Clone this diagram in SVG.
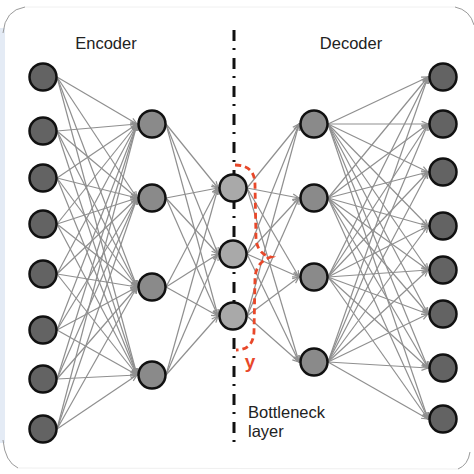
<svg xmlns="http://www.w3.org/2000/svg" width="474" height="474" viewBox="0 0 474 474">
<style>
.c line{stroke:#8f8f8f;stroke-width:1.2;marker-end:url(#a)}
.in{fill:#636363;stroke:#111;stroke-width:2.5}
.hid{fill:#8a8a8a;stroke:#111;stroke-width:2.5}
.bot{fill:#a9a9a9;stroke:#111;stroke-width:2.5}
.lbl{font-family:"Liberation Sans",Arial,sans-serif;font-size:16.5px;fill:#222}
</style>
<defs>
<marker id="a" viewBox="0 0 10 10" refX="9" refY="5" markerWidth="8" markerHeight="8" orient="auto" markerUnits="userSpaceOnUse"><path d="M1,1.5 L9,5 L1,8.5" fill="none" stroke="#8f8f8f" stroke-width="1.5"/></marker>
</defs>
<rect width="474" height="474" fill="#fff"/>
<g id="frame" fill="none">
<rect x="0" y="28" width="5" height="415" fill="#e4ebf5"/>
<path d="M25,7 L455,7 M18,468 L458,469" stroke="#f0f0f0" stroke-width="1"/>
<path d="M3,33 Q5,10 25,7 M455,7 Q470,10 474,25 M3,440 Q5,462 18,468 M470,452 Q468,465 458,469" stroke="#9a9a9a" stroke-width="1"/>
</g>
<line id="divider" x1="234" y1="30" x2="234" y2="442" stroke="#111" stroke-width="3" stroke-dasharray="11 7 2 8"/>
<g id="connectors" class="c">
<line x1="57" y1="77" x2="137" y2="124"/><line x1="57" y1="77" x2="137" y2="198"/><line x1="57" y1="77" x2="137" y2="287"/><line x1="57" y1="77" x2="137" y2="375"/>
<line x1="57" y1="131" x2="137" y2="124"/><line x1="57" y1="131" x2="137" y2="198"/><line x1="57" y1="131" x2="137" y2="287"/><line x1="57" y1="131" x2="137" y2="375"/>
<line x1="57" y1="178" x2="137" y2="124"/><line x1="57" y1="178" x2="137" y2="198"/><line x1="57" y1="178" x2="137" y2="287"/><line x1="57" y1="178" x2="137" y2="375"/>
<line x1="57" y1="224" x2="137" y2="124"/><line x1="57" y1="224" x2="137" y2="198"/><line x1="57" y1="224" x2="137" y2="287"/><line x1="57" y1="224" x2="137" y2="375"/>
<line x1="57" y1="274" x2="137" y2="124"/><line x1="57" y1="274" x2="137" y2="198"/><line x1="57" y1="274" x2="137" y2="287"/><line x1="57" y1="274" x2="137" y2="375"/>
<line x1="57" y1="330" x2="137" y2="124"/><line x1="57" y1="330" x2="137" y2="198"/><line x1="57" y1="330" x2="137" y2="287"/><line x1="57" y1="330" x2="137" y2="375"/>
<line x1="57" y1="379" x2="137" y2="124"/><line x1="57" y1="379" x2="137" y2="198"/><line x1="57" y1="379" x2="137" y2="287"/><line x1="57" y1="379" x2="137" y2="375"/>
<line x1="57" y1="429" x2="137" y2="124"/><line x1="57" y1="429" x2="137" y2="198"/><line x1="57" y1="429" x2="137" y2="287"/><line x1="57" y1="429" x2="137" y2="375"/>
<line x1="166" y1="124" x2="218" y2="188"/><line x1="166" y1="124" x2="218" y2="254"/><line x1="166" y1="124" x2="218" y2="316"/>
<line x1="166" y1="198" x2="218" y2="188"/><line x1="166" y1="198" x2="218" y2="254"/><line x1="166" y1="198" x2="218" y2="316"/>
<line x1="166" y1="287" x2="218" y2="188"/><line x1="166" y1="287" x2="218" y2="254"/><line x1="166" y1="287" x2="218" y2="316"/>
<line x1="166" y1="375" x2="218" y2="188"/><line x1="166" y1="375" x2="218" y2="254"/><line x1="166" y1="375" x2="218" y2="316"/>
<line x1="247" y1="188" x2="299" y2="124"/><line x1="247" y1="188" x2="299" y2="198"/><line x1="247" y1="188" x2="299" y2="277"/><line x1="247" y1="188" x2="299" y2="362"/>
<line x1="247" y1="254" x2="299" y2="124"/><line x1="247" y1="254" x2="299" y2="198"/><line x1="247" y1="254" x2="299" y2="277"/><line x1="247" y1="254" x2="299" y2="362"/>
<line x1="247" y1="316" x2="299" y2="124"/><line x1="247" y1="316" x2="299" y2="198"/><line x1="247" y1="316" x2="299" y2="277"/><line x1="247" y1="316" x2="299" y2="362"/>
<line x1="328" y1="124" x2="428" y2="77"/><line x1="328" y1="124" x2="428" y2="124"/><line x1="328" y1="124" x2="428" y2="172"/><line x1="328" y1="124" x2="428" y2="226"/><line x1="328" y1="124" x2="428" y2="270"/><line x1="328" y1="124" x2="428" y2="314"/><line x1="328" y1="124" x2="428" y2="368"/><line x1="328" y1="124" x2="428" y2="419"/>
<line x1="328" y1="198" x2="428" y2="77"/><line x1="328" y1="198" x2="428" y2="124"/><line x1="328" y1="198" x2="428" y2="172"/><line x1="328" y1="198" x2="428" y2="226"/><line x1="328" y1="198" x2="428" y2="270"/><line x1="328" y1="198" x2="428" y2="314"/><line x1="328" y1="198" x2="428" y2="368"/><line x1="328" y1="198" x2="428" y2="419"/>
<line x1="328" y1="277" x2="428" y2="77"/><line x1="328" y1="277" x2="428" y2="124"/><line x1="328" y1="277" x2="428" y2="172"/><line x1="328" y1="277" x2="428" y2="226"/><line x1="328" y1="277" x2="428" y2="270"/><line x1="328" y1="277" x2="428" y2="314"/><line x1="328" y1="277" x2="428" y2="368"/><line x1="328" y1="277" x2="428" y2="419"/>
<line x1="328" y1="362" x2="428" y2="77"/><line x1="328" y1="362" x2="428" y2="124"/><line x1="328" y1="362" x2="428" y2="172"/><line x1="328" y1="362" x2="428" y2="226"/><line x1="328" y1="362" x2="428" y2="270"/><line x1="328" y1="362" x2="428" y2="314"/><line x1="328" y1="362" x2="428" y2="368"/><line x1="328" y1="362" x2="428" y2="419"/>
</g>
<g id="input-nodes">
<circle id="i1" class="in" cx="43" cy="77" r="13.5"/><circle id="i2" class="in" cx="43" cy="131" r="13.5"/><circle id="i3" class="in" cx="43" cy="178" r="13.5"/><circle id="i4" class="in" cx="43" cy="224" r="13.5"/>
<circle id="i5" class="in" cx="43" cy="274" r="13.5"/><circle id="i6" class="in" cx="43" cy="330" r="13.5"/><circle id="i7" class="in" cx="43" cy="379" r="13.5"/><circle id="i8" class="in" cx="43" cy="429" r="13.5"/>
</g>
<g id="encoder-hidden">
<circle id="e1" class="hid" cx="152" cy="124" r="13.5"/><circle id="e2" class="hid" cx="152" cy="198" r="13.5"/><circle id="e3" class="hid" cx="152" cy="287" r="13.5"/><circle id="e4" class="hid" cx="152" cy="375" r="13.5"/>
</g>
<g id="bottleneck">
<circle id="b1" class="bot" cx="233" cy="188" r="13.5"/><circle id="b2" class="bot" cx="233" cy="254" r="13.5"/><circle id="b3" class="bot" cx="233" cy="316" r="13.5"/>
</g>
<g id="decoder-hidden">
<circle id="d1" class="hid" cx="314" cy="124" r="13.5"/><circle id="d2" class="hid" cx="314" cy="198" r="13.5"/><circle id="d3" class="hid" cx="314" cy="277" r="13.5"/><circle id="d4" class="hid" cx="314" cy="362" r="13.5"/>
</g>
<g id="output-nodes">
<circle id="o1" class="in" cx="443" cy="77" r="13.5"/><circle id="o2" class="in" cx="443" cy="124" r="13.5"/><circle id="o3" class="in" cx="443" cy="172" r="13.5"/><circle id="o4" class="in" cx="443" cy="226" r="13.5"/>
<circle id="o5" class="in" cx="443" cy="270" r="13.5"/><circle id="o6" class="in" cx="443" cy="314" r="13.5"/><circle id="o7" class="in" cx="443" cy="368" r="13.5"/><circle id="o8" class="in" cx="443" cy="419" r="13.5"/>
</g>
<g id="brace">
<path d="M235,165 Q255,165 255,185 L256,238 Q257,254 271,257 Q256,262 255,278 L254,332 Q253,350 236,350" fill="none" stroke="#e8482a" stroke-width="2.8" stroke-dasharray="6 4"/>
<text x="250" y="368" font-family="'Liberation Sans',Arial,sans-serif" font-size="19" font-weight="bold" fill="#e8482a" text-anchor="middle">y</text>
</g>
<g id="labels">
<text class="lbl" x="106" y="49" text-anchor="middle">Encoder</text>
<text class="lbl" x="351" y="49" text-anchor="middle">Decoder</text>
<text class="lbl" x="248" y="418">Bottleneck</text>
<text class="lbl" x="248" y="437">layer</text>
</g>
</svg>
